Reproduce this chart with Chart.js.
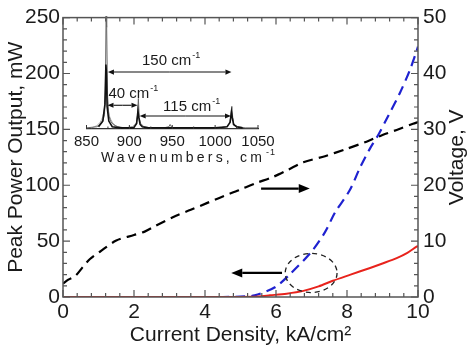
<!DOCTYPE html>
<html>
<head>
<meta charset="utf-8">
<script src="https://cdn.jsdelivr.net/npm/chart.js@4.4.1/dist/chart.umd.min.js"></script>
<style>
body{margin:0;background:#fff;}
#wrap{position:relative;width:474px;height:352px;}
#main{position:absolute;left:0;top:0;}
#inset{position:absolute;left:70px;top:0;}
</style>
</head>
<body>
<div id="wrap">
<canvas id="main" width="474" height="352"></canvas>
<canvas id="inset" width="215" height="172"></canvas>
</div>
<script>
// voltage vs current density (right axis)
var voltJ = [0, 0.15, 0.35, 0.55, 0.76, 1.04, 1.5, 2.0, 2.3, 2.6, 3.2, 3.6, 4.05, 4.5, 4.95, 5.4, 5.92, 6.35, 6.77, 7.38, 7.94, 8.55, 9.0, 9.4, 9.86, 10];
var voltV = [2.4, 3.1, 3.8, 5.3, 6.8, 8.1, 10.1, 11.1, 11.7, 12.7, 14.6, 15.6, 16.8, 18.0, 19.1, 20.3, 21.5, 22.8, 24.1, 25.2, 26.4, 27.8, 29.0, 29.9, 31.0, 31.3];
// peak power, blue dashed (left axis)
var blueJ = [3.5, 4.5, 5.0, 5.4, 5.97, 6.39, 7.0, 7.38, 7.66, 8.08, 8.37, 8.65, 8.88, 9.16, 9.49, 9.77, 9.96, 10];
var blueP = [0, 0, 0.3, 1.5, 8.7, 20.3, 40.6, 58, 75.4, 95.7, 116, 133, 145, 162, 182.6, 203, 220, 224];
// peak power, red solid (left axis)
var redJ = [0, 2, 4, 5.0, 5.5, 5.83, 6.3, 6.77, 7.2, 7.6, 8.1, 8.65, 9.0, 9.4, 9.7, 9.96, 10];
var redP = [0, 0, 0, 0.1, 0.5, 1.5, 3.0, 5.5, 9.5, 14.5, 20, 26, 30, 34.8, 39.5, 45, 45.5];

// inset spectrum
var specX = [850, 862, 866, 869, 871, 872, 872.8, 873.5, 874.5, 876, 878, 881, 886, 895, 904, 908, 909.5, 910.5, 911.5, 913, 917, 925, 940, 946, 947.5, 949, 952, 980, 1005, 1013, 1017, 1018.5, 1019.5, 1020.5, 1022, 1026, 1035, 1050];
var specY = [0.01, 0.02, 0.04, 0.07, 0.13, 0.35, 1.0, 0.9, 0.3, 0.12, 0.07, 0.04, 0.02, 0.01, 0.02, 0.05, 0.12, 0.27, 0.1, 0.05, 0.02, 0.01, 0.01, 0.02, 0.04, 0.02, 0.01, 0.01, 0.01, 0.02, 0.05, 0.12, 0.2, 0.1, 0.04, 0.02, 0.01, 0.01];
var darkX = [864, 869, 871.5, 872.6, 873.2, 874, 876, 880, 890, 905, 908.5, 910, 911, 912.5, 915, 922, 1000, 1014, 1017.5, 1019, 1020, 1021.5, 1025, 1032];
var darkY = [0.02, 0.07, 0.22, 0.57, 0.5, 0.2, 0.07, 0.02, 0.01, 0.01, 0.05, 0.16, 0.1, 0.04, 0.02, 0.01, 0.01, 0.02, 0.06, 0.15, 0.1, 0.04, 0.02, 0.01];
var fitX = [856, 862, 866, 869, 871, 872.5, 873.5, 875, 877, 880, 884, 890];
var fitY = [0.01, 0.03, 0.06, 0.11, 0.19, 0.32, 0.32, 0.19, 0.11, 0.06, 0.03, 0.01];

var FONT = '"Liberation Sans", Arial, sans-serif';
var TXT = '#1a1a1a';
var AXC = '#555';

function pts(xs, ys){
	var out = [];
	for(var i = 0; i < xs.length; i++){
		out.push({x: xs[i], y: ys[i]});
	}
	return out;
}

function plain(value){
	return String(value);
}

function arrow(ctx, x1, y1, x2, y2, head, half){
	var a = Math.atan2(y2 - y1, x2 - x1);
	ctx.beginPath();
	ctx.moveTo(x1, y1);
	ctx.lineTo(x2 - head * Math.cos(a), y2 - head * Math.sin(a));
	ctx.stroke();
	ctx.beginPath();
	ctx.moveTo(x2, y2);
	ctx.lineTo(x2 - head * Math.cos(a) - half * Math.sin(a), y2 - head * Math.sin(a) + half * Math.cos(a));
	ctx.lineTo(x2 - head * Math.cos(a) + half * Math.sin(a), y2 - head * Math.sin(a) - half * Math.cos(a));
	ctx.closePath();
	ctx.fill();
}

// text with a superscript, centred on cx
function supText(ctx, base, sup, cx, cy, size){
	ctx.font = size + 'px ' + FONT;
	var w1 = ctx.measureText(base).width;
	ctx.font = Math.round(size * 0.62) + 'px ' + FONT;
	var w2 = ctx.measureText(sup).width;
	var x0 = cx - (w1 + w2) / 2;
	ctx.textAlign = 'left';
	ctx.textBaseline = 'middle';
	ctx.font = size + 'px ' + FONT;
	ctx.fillText(base, x0, cy);
	ctx.font = Math.round(size * 0.62) + 'px ' + FONT;
	ctx.fillText(sup, x0 + w1 + 1, cy - size * 0.38);
}

var mainDeco = {
	id: 'mainDeco',
	afterDraw: function(chart){
		var ctx = chart.ctx, a = chart.chartArea;
		var sx = chart.scales.x, sy = chart.scales.y, sv = chart.scales.y1;
		ctx.save();
		ctx.strokeStyle = AXC;
		ctx.lineWidth = 1.5;
		ctx.strokeRect(a.left, a.top, a.right - a.left, a.bottom - a.top);
		ctx.lineWidth = 1.2;
		ctx.beginPath();
		for(var i = 0; i <= 25; i++){
			var v = i * 0.4;
			var len = (i % 5 == 0) ? 7 : 4;
			var px = sx.getPixelForValue(v);
			ctx.moveTo(px, a.bottom); ctx.lineTo(px, a.bottom - len);
			ctx.moveTo(px, a.top); ctx.lineTo(px, a.top + len);
		}
		for(var j = 0; j <= 25; j++){
			var len2 = (j % 5 == 0) ? 7 : 4;
			var py = sy.getPixelForValue(j * 10);
			ctx.moveTo(a.left, py); ctx.lineTo(a.left + len2, py);
			var pv = sv.getPixelForValue(j * 2);
			ctx.moveTo(a.right, pv); ctx.lineTo(a.right - len2, pv);
		}
		ctx.stroke();

		// arrows pointing at the axes
		ctx.strokeStyle = '#000';
		ctx.fillStyle = '#000';
		ctx.lineWidth = 2.2;
		var yR = sv.getPixelForValue(19.4);
		arrow(ctx, sx.getPixelForValue(5.58), yR, sx.getPixelForValue(6.95), yR, 11, 4.5);
		var yL = sy.getPixelForValue(21.5);
		arrow(ctx, sx.getPixelForValue(6.17), yL, sx.getPixelForValue(4.74), yL, 11, 4.5);

		// dashed ellipse
		var cx = sx.getPixelForValue(6.99), cy = sy.getPixelForValue(21.5);
		var rx = sx.getPixelForValue(7.72) - cx, ry = cy - sy.getPixelForValue(39);
		ctx.strokeStyle = '#222';
		ctx.lineWidth = 1.3;
		ctx.setLineDash([5, 4]);
		ctx.beginPath();
		ctx.ellipse(cx, cy, rx, ry, 0, 0, Math.PI * 2);
		ctx.stroke();
		ctx.setLineDash([]);

		// right axis title reads bottom to top
		ctx.fillStyle = TXT;
		ctx.font = '21px ' + FONT;
		ctx.textAlign = 'center';
		ctx.textBaseline = 'middle';
		ctx.translate(457, (a.top + a.bottom) / 2);
		ctx.rotate(-Math.PI / 2);
		ctx.fillText('Voltage, V', 0, 0);
		ctx.restore();
	}
};

var tickFont = {family: FONT, size: 21};

new Chart(document.getElementById('main'), {
	type: 'line',
	data: {
		datasets: [
			{data: pts(redJ, redP), yAxisID: 'y', borderColor: '#e8231c', borderWidth: 2, pointRadius: 0, tension: 0.3, order: 1},
			{data: pts(blueJ, blueP), yAxisID: 'y', borderColor: '#1f22d0', borderWidth: 2.2, borderDash: [10, 6], pointRadius: 0, tension: 0.3, order: 2},
			{data: pts(voltJ, voltV), yAxisID: 'y1', borderColor: '#000', borderWidth: 2.2, borderDash: [10, 6], pointRadius: 0, tension: 0.3, order: 3}
		]
	},
	options: {
		responsive: false,
		animation: false,
		events: [],
		layout: {padding: {top: 8, left: 0, right: 0, bottom: 0}},
		plugins: {legend: {display: false}, tooltip: {enabled: false}},
		scales: {
			x: {
				type: 'linear', min: 0, max: 10,
				ticks: {stepSize: 2, font: tickFont, color: TXT, padding: 3, maxRotation: 0, callback: plain},
				grid: {display: false, drawTicks: false},
				border: {display: false},
				title: {display: true, text: 'Current Density, kA/cm²', font: tickFont, color: TXT, padding: {top: 0, bottom: 4}},
				afterFit: function(s){ s.height = 55; }
			},
			y: {
				position: 'left', min: 0, max: 250,
				ticks: {stepSize: 50, font: tickFont, color: TXT, padding: 3, callback: plain},
				grid: {display: false, drawTicks: false},
				border: {display: false},
				title: {display: true, text: 'Peak Power Output, mW', font: tickFont, color: TXT, padding: {top: 4, bottom: 2}},
				afterFit: function(s){ s.width = 63; }
			},
			y1: {
				position: 'right', min: 0, max: 50,
				ticks: {stepSize: 10, font: tickFont, color: TXT, padding: 5, callback: plain},
				grid: {display: false, drawTicks: false},
				border: {display: false},
				afterFit: function(s){ s.width = 56; }
			}
		}
	},
	plugins: [mainDeco]
});

var insetDeco = {
	id: 'insetDeco',
	afterDraw: function(chart){
		var ctx = chart.ctx, a = chart.chartArea;
		var sx = chart.scales.x, sy = chart.scales.y;
		ctx.save();
		ctx.strokeStyle = '#333';
		ctx.lineWidth = 1;
		ctx.beginPath();
		for(var w = 850; w <= 1050; w += 25){
			var px = sx.getPixelForValue(w);
			var len = (w % 50 == 0) ? 4 : 2.5;
			ctx.moveTo(px, a.bottom); ctx.lineTo(px, a.bottom - len);
		}
		ctx.stroke();

		ctx.strokeStyle = '#111';
		ctx.fillStyle = '#111';
		ctx.lineWidth = 1.1;
		function both(w1, w2, iy){
			var y = sy.getPixelForValue(iy);
			var x1 = sx.getPixelForValue(w1), x2 = sx.getPixelForValue(w2);
			var m = (x1 + x2) / 2;
			arrow(ctx, m, y, x2, y, 6, 2.6);
			arrow(ctx, m, y, x1, y, 6, 2.6);
		}
		both(875, 1019, 0.504);
		both(874.5, 909.5, 0.21);
		both(912, 1018.5, 0.115);

		ctx.fillStyle = TXT;
		supText(ctx, '150 cm', '-1', sx.getPixelForValue(948), sy.getPixelForValue(0.6), 15);
		supText(ctx, '40 cm', '-1', sx.getPixelForValue(904), sy.getPixelForValue(0.31), 15);
		supText(ctx, '115 cm', '-1', sx.getPixelForValue(972), sy.getPixelForValue(0.195), 15);

		// letter-spaced axis title
		ctx.font = '14px ' + FONT;
		ctx.letterSpacing = '3.2px';
		ctx.textAlign = 'left';
		ctx.textBaseline = 'middle';
		var t = 'Wavenumbers, cm';
		var tw = ctx.measureText(t).width;
		var x0 = 118 - (tw + 10) / 2;
		ctx.fillText(t, x0, 158);
		ctx.letterSpacing = '1px';
		ctx.font = '9px ' + FONT;
		ctx.fillText('-1', x0 + tw + 1, 153);
		ctx.restore();
	}
};

new Chart(document.getElementById('inset'), {
	type: 'line',
	data: {
		datasets: [
			{data: pts(darkX, darkY), borderColor: '#111', borderWidth: 1.6, pointRadius: 0, tension: 0},
			{data: pts(specX, specY), borderColor: '#666', borderWidth: 1, pointRadius: 0, tension: 0},
			{data: pts(fitX, fitY), borderColor: '#aaa', borderWidth: 1, pointRadius: 0, tension: 0.3}
		]
	},
	options: {
		responsive: false,
		animation: false,
		events: [],
		layout: {padding: {left: 14, right: 27, top: 16, bottom: 0}},
		plugins: {legend: {display: false}, tooltip: {enabled: false}},
		scales: {
			x: {
				type: 'linear', min: 850, max: 1050,
				ticks: {stepSize: 50, font: {family: FONT, size: 15}, color: TXT, padding: 4, maxRotation: 0, callback: plain},
				grid: {display: false, drawTicks: false},
				border: {display: true, color: '#333', width: 1.2},
				afterFit: function(s){ s.height = 43; }
			},
			y: {min: 0, max: 1, display: false}
		}
	},
	plugins: [insetDeco]
});
</script>
</body>
</html>
